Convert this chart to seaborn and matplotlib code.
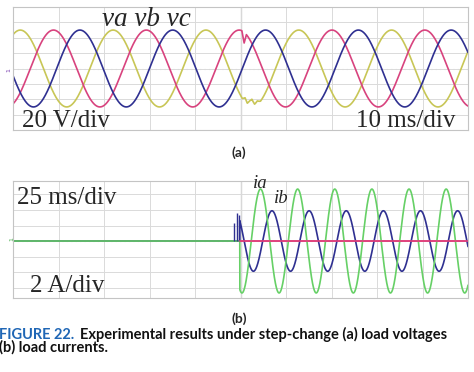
import numpy as np
import pandas as pd
import matplotlib.pyplot as plt
import seaborn as sns

# --- (a) load voltages: 10 ms/div, 20 V/div, 10 x 8 divisions ---
v_span = 100.0                      # ms shown
v_div_t, v_div_y = 10.0, 20.0
v_names = ["va", "vb", "vc"]
v_amp = [50.0, 50.0, 50.0]          # V
v_peak_t = [1.6, 8.9, 14.7]         # ms, first crest of each phase
period = 20.4                       # ms
v_colors = ["#c8c656", "#d8437e", "#2f3091"]

# small disturbance where the step happens
va_glitch_t = [50.4, 51.0, 51.5, 52.0, 52.5, 53.1, 53.7, 54.4]
va_glitch_dv = [0, 6, 2, 7, 10, 3, 5, 0]
vb_glitch_t = [50.3, 50.8, 51.3]
vb_glitch_dv = [0, -14, 0]

# --- (b) load currents: 25 ms/div, 2 A/div ---
i_span = 250.0
i_div_t, i_div_y = 25.0, 2.0
t_step = 124.6
i_amp = [6.7, 3.9]                  # ia, ib
i_peak_t = [136.0, 142.3]
ib_spike_t = [121.4, 123.2, 124.0]
ib_spike_a = [2.3, 3.6, 3.3]
i_colors = ["#66d066", "#2f3091", "#e0427c"]

sns.set_theme(style="white")
plt.rcParams["font.family"] = ["DejaVu Sans"]

W, H = 474, 372
fig = plt.figure(figsize=(W / 100, H / 100), dpi=100)


def px_box(x0, y0, x1, y1):
    return [x0 / W, 1 - y1 / H, (x1 - x0) / W, (y1 - y0) / H]


def scope_grid(ax, span, dt, ylo, yhi, dy):
    ax.set_xlim(0, span)
    ax.set_ylim(ylo, yhi)
    ax.set_xticks(np.arange(0, span + 0.01, dt))
    k = np.arange(np.ceil(ylo / dy), np.floor(yhi / dy) + 1)
    ax.set_yticks(k * dy)
    ax.grid(True, color="#dadada", lw=0.7)
    ax.tick_params(left=False, bottom=False, labelleft=False, labelbottom=False)
    ax.axvline(span / 2, color="#b4b4b4", lw=0.9, zorder=0.5)
    ax.axhline(0, color="#cfcfcf", lw=0.8, ls=(0, (1, 3)), zorder=0.5)
    for s in ax.spines.values():
        s.set_color("#c4c4c4")
        s.set_linewidth(0.8)


# top panel
ax1 = fig.add_axes(px_box(13, 7, 468, 130))
t = np.linspace(0, v_span, 2001)
glitches = [(va_glitch_t, va_glitch_dv), (vb_glitch_t, vb_glitch_dv), ([0, 1], [0, 0])]
for amp, tp, col, (gt, gv) in zip(v_amp, v_peak_t, v_colors, glitches):
    v = amp * np.cos(2 * np.pi * (t - tp) / period) + np.interp(t, gt, gv, left=0, right=0)
    sns.lineplot(x=t, y=v, ax=ax1, color=col, lw=1.2, estimator=None)
scope_grid(ax1, v_span, v_div_t, -4 * v_div_y, 4 * v_div_y, v_div_y)

# bottom panel
ax2 = fig.add_axes(px_box(13, 181, 468, 298))
ti = np.linspace(0, i_span, 5001)
ti = np.sort(np.append(ti, [t_step - 1e-6, t_step]))
on = ti >= t_step
ia = np.where(on, i_amp[0] * np.cos(2 * np.pi * (ti - i_peak_t[0]) / period), 0.0)
ib = np.where(on, i_amp[1] * np.cos(2 * np.pi * (ti - i_peak_t[1]) / period), 0.0)
ic = np.zeros_like(ti)
sns.lineplot(x=ti, y=ic, ax=ax2, color=i_colors[2], lw=1.2, estimator=None)
sns.lineplot(x=ti, y=ib, ax=ax2, color=i_colors[1], lw=1.2, estimator=None)
sns.lineplot(x=ti, y=ia, ax=ax2, color=i_colors[0], lw=1.2, estimator=None)
ax2.vlines(ib_spike_t, 0, ib_spike_a, color=i_colors[1], lw=1.0)
sns.lineplot(x=ti[on], y=ic[on], ax=ax2, color=i_colors[2], lw=1.2, estimator=None)
scope_grid(ax2, i_span, i_div_t, -7.35, 7.74, i_div_y)

# labels on the screenshots
serif = "Liberation Serif"


def ftext(x, y, s, **kw):
    return fig.text(x / W, 1 - y / H, s, va="baseline", **kw)


ftext(102, 26, "va vb vc", family=serif, style="italic", fontsize=19.5)
ftext(22, 127, "20 V/div", family=serif, fontsize=18)
ftext(455, 127, "10 ms/div", family=serif, fontsize=18, ha="right")
ftext(17, 204, "25 ms/div", family=serif, fontsize=18)
ftext(30, 292, "2 A/div", family=serif, fontsize=18)
ftext(253, 188, "ia", family=serif, style="italic", fontsize=13.5)
ftext(274, 203, "ib", family=serif, style="italic", fontsize=13.5)
ftext(6, 71, "1", fontsize=4.5, color="#7a3fb0", rotation=90)
ftext(9, 240, "1", fontsize=4.5, color="#4caf50", rotation=90)

sans = "Lato"
fig.text(239 / W, 1 - 153 / H, "(a)", family=sans, weight="bold", fontsize=10,
         ha="center", va="center")
fig.text(239 / W, 1 - 319 / H, "(b)", family=sans, weight="bold", fontsize=10,
         ha="center", va="center")

# caption
cap1 = ftext(-1, 339, "FIGURE 22.", family=sans, weight="bold", fontsize=10.5,
             color="#1f66b5")
fig.canvas.draw()
bb = cap1.get_window_extent()
ftext(bb.x1 + 6, 339, "Experimental results under step-change (a) load voltages",
      family=sans, weight="bold", fontsize=10.5, color="#111111")
ftext(-1, 352, "(b) load currents.", family=sans, weight="bold", fontsize=10.5,
      color="#111111")

fig.savefig("out.png", dpi=100, facecolor="white")
